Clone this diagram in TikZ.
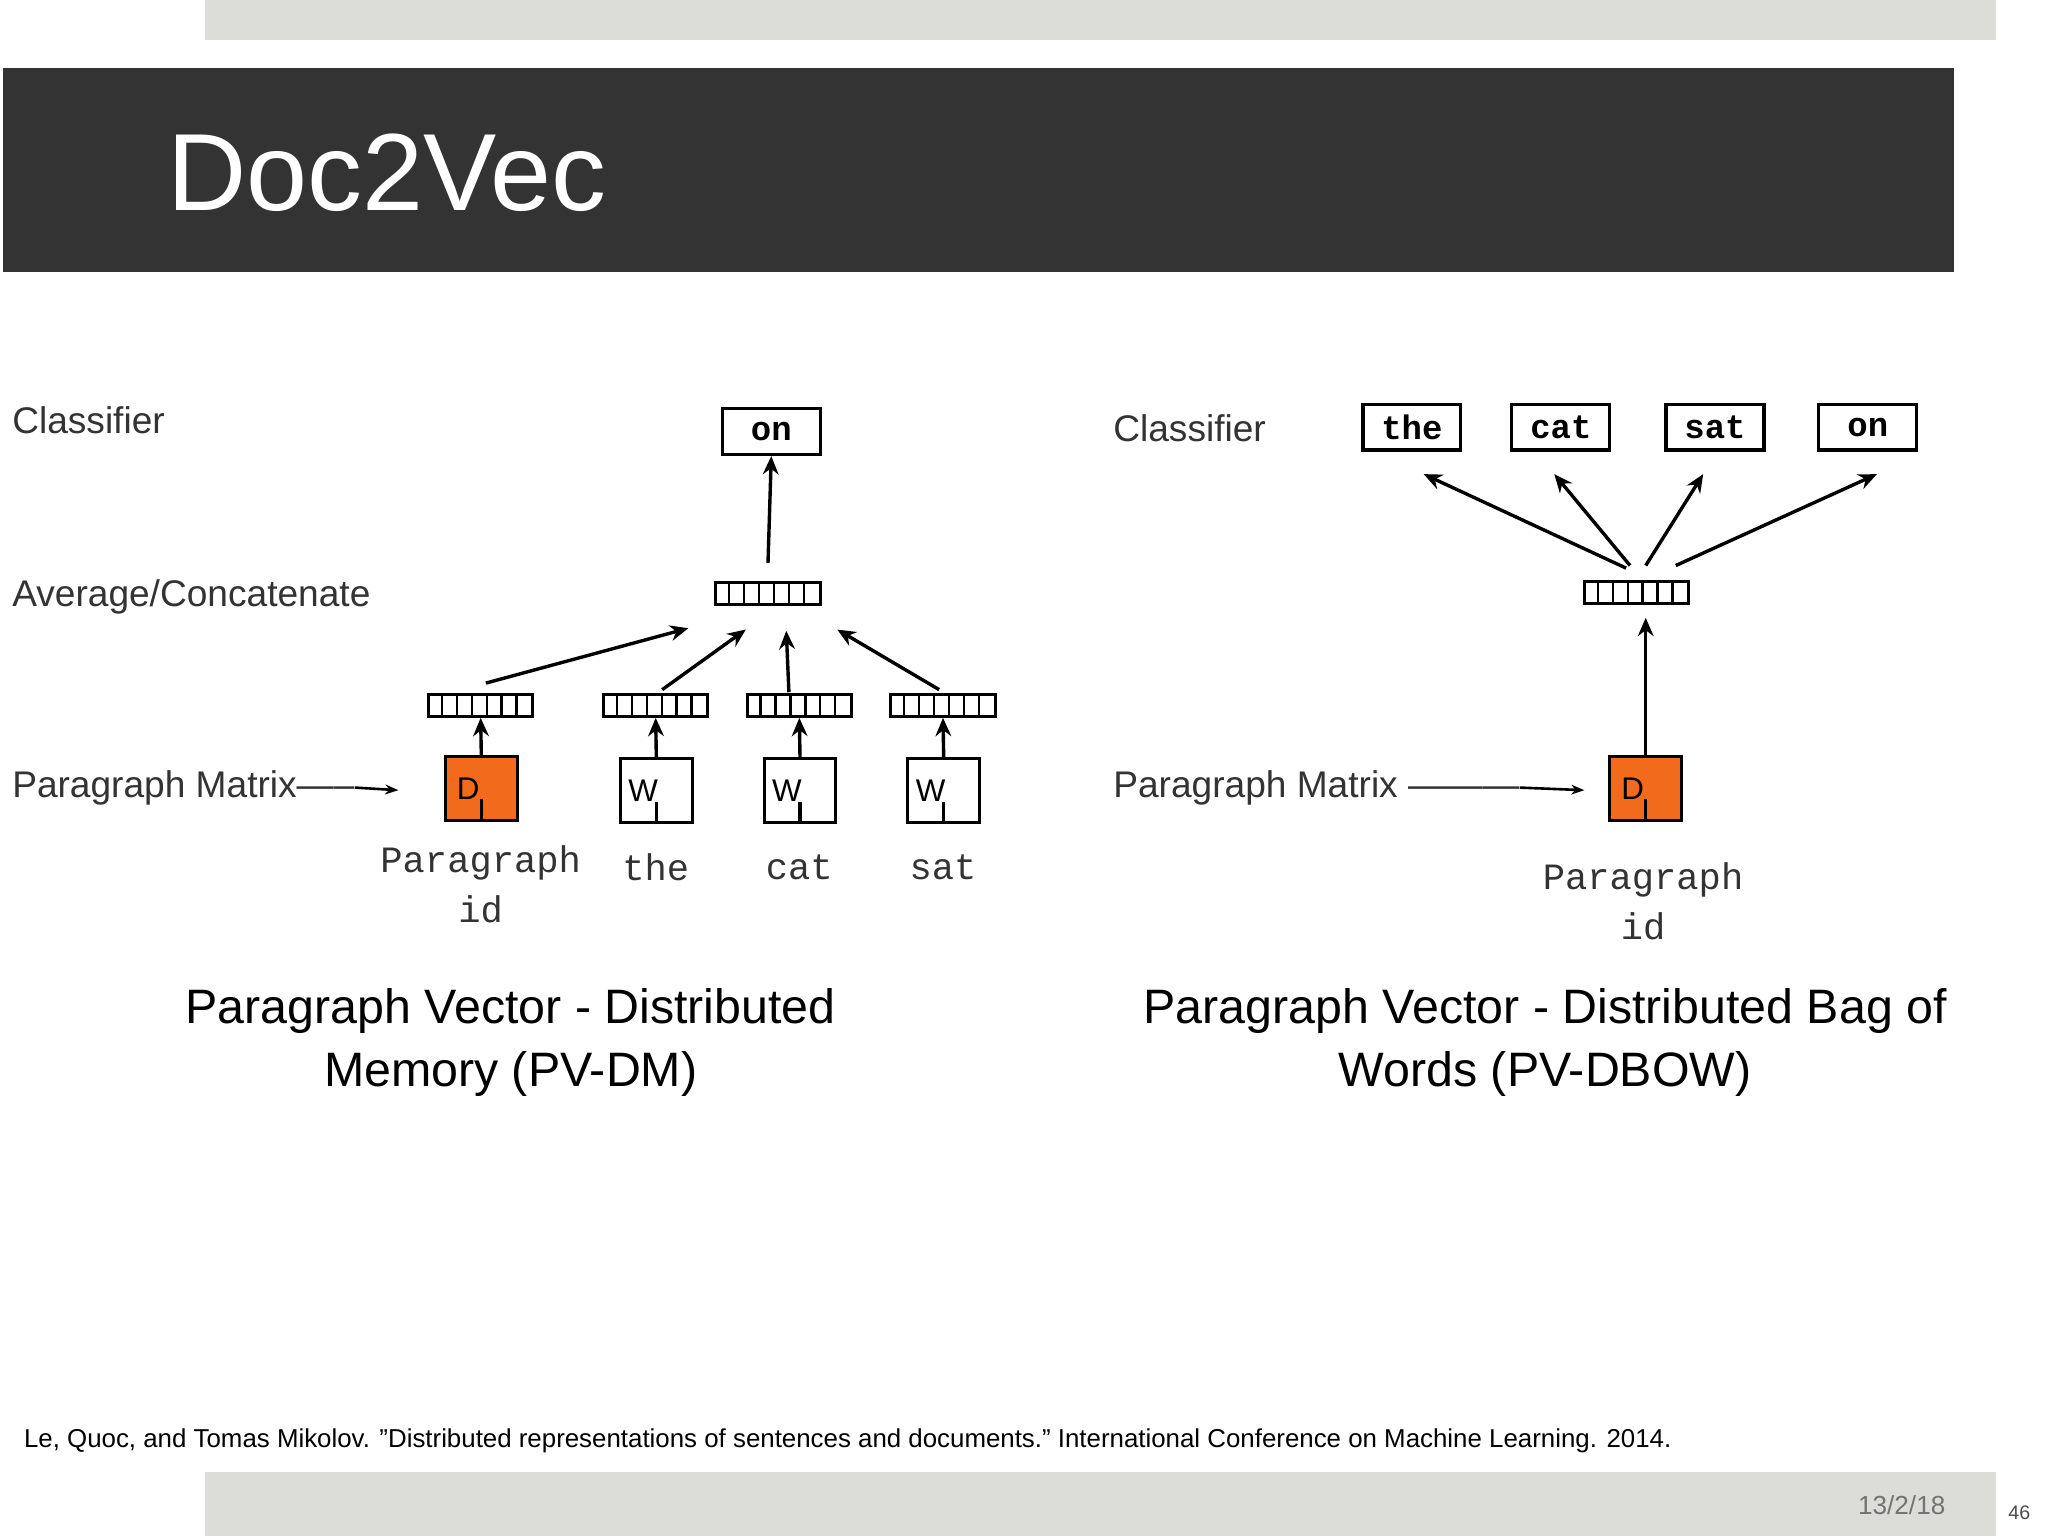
\documentclass[tikz,border=0pt]{standalone}
\usepackage{fontspec}
\setmainfont{Liberation Sans}
\newfontfamily\mono{Liberation Mono}
\usetikzlibrary{arrows.meta}
\definecolor{dorange}{HTML}{F26A1B}
\definecolor{hdr}{HTML}{333333}
\definecolor{barg}{HTML}{DCDDD8}
\tikzset{
 lbl/.style={anchor=west,font=\fontsize{14.2pt}{16pt}\selectfont,text=black!80,inner sep=0},
 wbox/.style={draw,line width=1.2pt,minimum width=37.5pt,minimum height=17.5pt,inner sep=0,font=\mono\bfseries\fontsize{13pt}{14pt}\selectfont},
 vecb/.style={draw,line width=1.1pt,minimum width=40pt,minimum height=8.5pt,inner sep=0},
 mat/.style={draw,line width=1.1pt,minimum width=27.5pt,minimum height=24.5pt,inner sep=0,font=\fontsize{12pt}{13pt}\selectfont,anchor=center},
 wl/.style={font=\mono\fontsize{14.2pt}{16pt}\selectfont,text=black!80,inner sep=0},
 arr/.style={line width=1.3pt,-{Stealth[length=7pt,width=6pt]}},
 stem/.style={line width=1.3pt},
 captext/.style={font=\fontsize{18.5pt}{24pt}\selectfont,align=center,inner sep=0},
}
\newcommand\vecbox[3]{\node[vecb] (#1) at (#2,#3) {};
 \foreach \k in {1,...,6}{\draw[line width=0.9pt] ([xshift=\k*40pt/7]#1.south west) -- ([xshift=\k*40pt/7]#1.north west);}}
\begin{document}
\begin{tikzpicture}[x=0.5pt,y=-0.5pt]
\useasboundingbox (0,0) rectangle (1568,1176);
\fill[white] (0,0) rectangle (1568,1176);
\fill[barg] (157,0) rectangle (1528,31);
\fill[hdr] (2,52) rectangle (1496,208);
\node[anchor=west,text=white,font=\fontsize{42pt}{46pt}\selectfont,inner sep=0] (title) at (128,132) {Doc2Vec};
\fill[barg] (157,1127) rectangle (1528,1176);
\node[text=black!55,font=\fontsize{10pt}{12pt}\selectfont] (date) at (1456,1152) {13/2/18};
\node[text=black!70,font=\fontsize{7.5pt}{9pt}\selectfont] (pg) at (1546,1158) {46};
\node[anchor=west,inner sep=0,font=\fontsize{9.9pt}{12pt}\selectfont] (ref) at (18,1103) {Le, Quoc, and Tomas Mikolov. "Distributed representations of sentences and documents." International Conference on Machine Learning. 2014.};
% left
\node[lbl] (lc) at (9,322) {Classifier};
\node[lbl] (la) at (9,457) {Average/Concatenate};
\node[lbl] (lp) at (9,603) {Paragraph Matrix-----};
\coordinate (lpe) at (305,605);
\draw[line width=1pt,-{Stealth[length=5pt]}] (lp.east) -- (lpe);
\node[wbox] (on1) at (590.5,330.5) {on};
\vecbox{avg1}{588}{454.5}
\draw[arr] (avg1.north) ++(0,-14) coordinate (a1s) (a1s) -- (on1.south);
\vecbox{v0}{368}{540}
\vecbox{v1}{502}{540}
\vecbox{v2}{612}{540}
\vecbox{v3}{722}{540}
\node[mat,fill=dorange] (d1) at (368.5,603.5) {\hspace*{-10pt}D};
\node[mat] (w1) at (502.5,605.5) {\hspace*{-10pt}W};
\node[mat] (w2) at (612.5,605.5) {\hspace*{-10pt}W};
\node[mat] (w3) at (722.5,605.5) {\hspace*{-10pt}W};
\foreach \b/\v in {d1/v0,w1/v1,w2/v2,w3/v3}{
 \draw[arr] (\b.north) -- (\v.south);
 \draw[stem] (\b.south) -- ++(0,-17) coordinate (\b e);}
\node[wl] (pid1) at (368,661) {Paragraph};
\node[wl] (id1) at (368,696) {id};
\node[wl] (t1) at (502,664) {the};
\node[wl] (t2) at (612,664) {cat};
\node[wl] (t3) at (722,664) {sat};
\coordinate (g0) at (527,481);\coordinate (g1) at (571,482);\coordinate (g2) at (602,483);\coordinate (g3) at (641,482);
\coordinate (s0) at (372,523);\coordinate (s1) at (507,528);\coordinate (s2) at (604,530);\coordinate (s3) at (719,528);
\foreach \i in {0,1,2,3}{\draw[arr] (s\i) -- (g\i);}
\node[captext] (c1) at (391,798) {Paragraph Vector - Distributed\\Memory (PV-DM)};
% right
\node[lbl] (rc) at (852,328) {Classifier};
\node[wbox] (rthe) at (1081,327) {the};
\node[wbox] (rcat) at (1195,327) {cat};
\node[wbox] (rsat) at (1313,327) {sat};
\node[wbox] (ron) at (1430,327) {on};
\vecbox{avg2}{1253}{453.5}
\coordinate (r0) at (1245,435);\coordinate (r1) at (1248,433);\coordinate (r2) at (1260,433);\coordinate (r3) at (1283,433);
\coordinate (q0) at (1090,363);\coordinate (q1) at (1190,363);\coordinate (q2) at (1304,363);\coordinate (q3) at (1437,363);
\foreach \i in {0,1,2,3}{\draw[arr] (r\i) -- (q\i);}
\node[mat,fill=dorange] (d2) at (1260,603.5) {\hspace*{-10pt}D};
\coordinate (d2t) at (1260,473);
\draw[arr] (d2.north) -- (d2t);
\draw[stem] (d2.south) -- ++(0,-17) coordinate (d2e);
\node[lbl] (rp) at (852,603) {Paragraph Matrix ---------};
\coordinate (rpe) at (1213,605);
\draw[line width=1pt,-{Stealth[length=5pt]}] (rp.east) -- (rpe);
\node[wl] (pid2) at (1258,674) {Paragraph};
\node[wl] (id2) at (1258,709) {id};
\node[captext] (c2) at (1183,798) {Paragraph Vector - Distributed Bag of\\Words (PV-DBOW)};
\end{tikzpicture}
\end{document}
